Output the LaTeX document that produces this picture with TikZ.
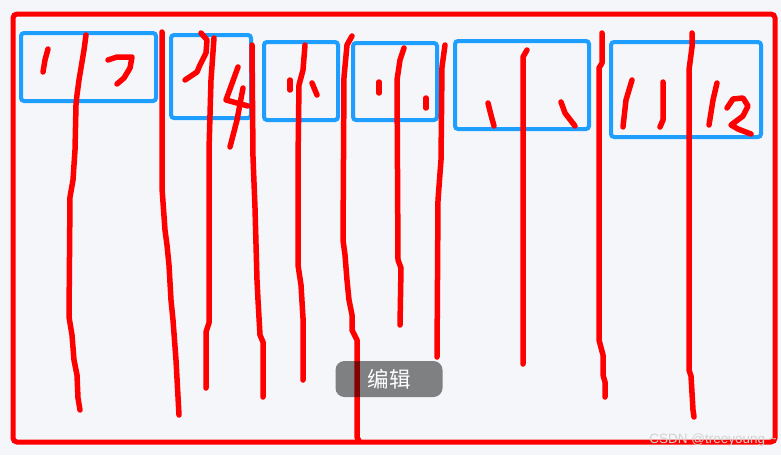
\documentclass[tikz,border=0pt]{standalone}
\usepackage{fontspec}
\newfontfamily\cjk{Noto Sans CJK SC}
\setmainfont{Liberation Sans}
\definecolor{bgc}{HTML}{F4F6FA}
\definecolor{pen}{HTML}{FF0000}
\definecolor{boxblue}{HTML}{1E9EFF}
\definecolor{wmgray}{HTML}{D2D2D2}
\begin{document}
\begin{tikzpicture}[x=1pt,y=-1pt,
  stroke/.style={draw=pen,line width=5.5pt,line cap=round,line join=round},
  frame/.style={draw=pen,line width=5pt,rounded corners=4pt},
  bluebox/.style={draw=boxblue,line width=4pt,rounded corners=3pt},
  editbtn/.style={fill=black,fill opacity=0.48,text opacity=1,rounded corners=9pt,minimum width=107pt,minimum height=36pt,inner sep=0pt,text=white,font=\cjk\fontsize{21.5}{22}\selectfont},
  wmark/.style={text=wmgray,font=\fontsize{13.5}{14}\selectfont,inner sep=0pt,anchor=east}]
\fill[bgc] (0,0) rectangle (781,455);
\useasboundingbox (0,0) rectangle (781,455);
% outer frame
\draw[frame] (13,14) rectangle (775,442);
% blue boxes
\draw[bluebox] (21,33) rectangle (156,101);
\draw[bluebox] (171,35) rectangle (251,118);
\draw[bluebox] (264,42) rectangle (338,120);
\draw[bluebox] (353,43) rectangle (437,120);
\draw[bluebox] (455,41) rectangle (589,129);
\draw[bluebox] (611,42) rectangle (761,137);
% long strokes
\draw[stroke] (86,35) -- (84,50) -- (79,80) -- (77,95) -- (76,105) -- (75,150) -- (73,180) -- (70,197) -- (69,317) -- (72,335) -- (74,360) -- (77,375) -- (78,398) -- (80,410);
\draw[stroke] (162,32) -- (162,188) -- (165,230) -- (167,245) -- (169,265) -- (171,300) -- (173,320) -- (176,360) -- (179,415);
\draw[stroke] (214,38) -- (211,80) -- (209,150) -- (209,323) -- (206,332) -- (206,388);
\draw[stroke] (252,45) -- (253,157) -- (255,208) -- (257,280) -- (258,300) -- (260,335) -- (263,342) -- (263,397);
\draw[stroke] (305,45) -- (303,70) -- (299,85) -- (298,160) -- (298,265) -- (301,285) -- (303,318) -- (303,380);
\draw[stroke] (352,36) -- (347,45) -- (344,77) -- (343,240) -- (345,255) -- (347,280) -- (349,300) -- (352,315) -- (352,330) -- (357,340) -- (357,437) -- (359,441);
\draw[stroke] (404,48) -- (400,60) -- (397,80) -- (398,260) -- (401,268) -- (400,325);
\draw[stroke] (445,45) -- (442,67) -- (441,160) -- (438,200) -- (437,357);
\draw[stroke] (527,50) -- (523,57) -- (523,364);
\draw[stroke] (602,33) -- (602,63) -- (599,68) -- (599,340) -- (603,355) -- (603,375) -- (605,382) -- (605,397);
\draw[stroke] (692,33) -- (692,47) -- (689,70) -- (689,370) -- (691,376) -- (693,410) -- (694,417);
% small marks
\draw[stroke] (48,49) -- (45,60) -- (43,72);
\draw[stroke] (108,60) -- (117,57) -- (132,57) -- (130,68) -- (124,78) -- (117,84);
\draw[stroke] (201,33) -- (207,40) -- (206,53) -- (200,65) -- (197,72) -- (185,80);
\draw[stroke] (238,67) -- (226,100) -- (248,106);
\draw[stroke] (243,88) -- (237,120) -- (230,147);
\draw[stroke] (290,80) -- (290,90);
\draw[stroke] (312,83) -- (317,95);
\draw[stroke] (379,82) -- (379,93);
\draw[stroke] (426,98) -- (426,108);
\draw[stroke] (488,103) -- (491,115) -- (494,126);
\draw[stroke] (561,102) -- (565,113) -- (575,126);
\draw[stroke] (632,80) -- (626,100) -- (623,127);
\draw[stroke] (663,82) -- (663,120) -- (660,127);
\draw[stroke] (717,83) -- (713,100) -- (709,125);
\draw[stroke] (727,108) -- (733,99) -- (743,98) -- (748,106) -- (743,116) -- (731,125) -- (738,129) -- (751,134);
% edit button
\node[editbtn] (edit) at (389,379) {编辑};
% watermark
\node[wmark] (wm) at (777,440) {CSDN @treeyoung \textasciitilde};
\end{tikzpicture}
\end{document}
